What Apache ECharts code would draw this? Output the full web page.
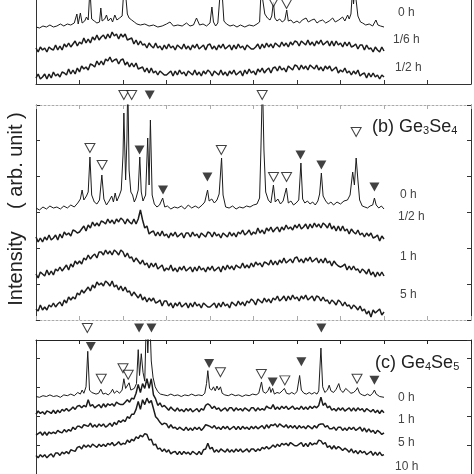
<!DOCTYPE html>
<html>
<head>
<meta charset="utf-8">
<script src="https://cdn.jsdelivr.net/npm/echarts@6/dist/echarts.min.js"></script>
<style>
  html, body { margin: 0; padding: 0; background: #fff; }
  #chart { width: 474px; height: 474px; }
</style>
</head>
<body>
<div id="chart"></div>
<script>
// 2theta sampling of the scanned (noisy) patterns, 10..50 deg every 0.25 deg
const twoTheta = [];
for (let i = 0; i <= 160; i++) twoTheta.push(10 + i * 0.25);

// ---- (a) ----
const a0h = [[10.0,57],[10.4,56],[10.8,58],[11.2,57],[11.6,59],[12.0,57],[12.4,58],[12.8,60],[13.2,58],[13.6,60],[14.0,59],[14.4,61],[14.7,70],[14.85,60],[15.1,71],[15.3,61],[15.6,63],[15.8,67],[16.0,64],[16.2,95],[16.4,65],[16.7,63],[17.0,61],[17.3,62],[17.45,76],[17.6,63],[17.9,65],[18.1,69],[18.3,63],[18.6,66],[18.8,62],[19.06,69],[19.3,64],[19.6,66],[19.9,68],[20.1,95],[20.3,90],[20.5,70],[20.7,66],[21.0,64],[21.3,62],[21.6,60],[22.0,59],[22.5,60],[23.0,58],[23.5,59],[24.0,57],[24.5,58],[25.0,60],[25.4,62],[25.8,58],[26.3,59],[26.8,58],[27.3,61],[27.7,58],[28.1,59],[28.45,66],[28.8,59],[29.2,60],[29.6,58],[30.0,61],[30.22,77],[30.4,62],[30.65,58],[30.9,61],[31.2,95],[31.4,90],[31.6,63],[31.9,60],[32.3,58],[32.7,59],[33.1,57],[33.5,59],[34.0,57],[34.5,59],[35.0,58],[35.4,60],[35.7,62],[35.88,95],[36.07,95],[36.3,70],[36.6,66],[36.9,64],[37.1,68],[37.29,82],[37.45,66],[37.7,63],[38.0,65],[38.3,62],[38.6,64],[38.82,74],[39.0,63],[39.3,64],[39.6,61],[40.0,63],[40.3,61],[40.6,64],[41.04,66],[41.3,62],[41.7,64],[41.99,65],[42.3,61],[42.6,63],[42.95,64],[43.3,61],[43.7,63],[44.1,66],[44.4,62],[44.8,64],[45.24,67],[45.5,63],[45.82,69],[46.0,65],[46.2,70],[46.39,95],[46.5,80],[46.62,95],[46.78,85],[47.0,68],[47.3,62],[47.54,61],[47.9,59],[48.3,60],[48.7,58],[49.07,64],[49.3,59],[49.6,58],[50.0,57]];
const a16h = [
  36,32,37,34,36,32,37,35,34,39,34,38,34,40,37,41,37,40,43,38,
  42,40,46,41,45,41,47,44,49,44,47,49,45,50,46,52,48,50,45,50,
  47,50,44,45,46,40,44,39,43,39,40,36,41,38,36,41,36,38,34,39,
  35,40,36,38,34,39,37,35,40,35,38,34,39,36,40,35,37,39,34,39,
  40,35,38,34,39,36,40,35,37,39,34,39,35,40,36,38,34,39,37,35,
  35,37,40,35,40,36,41,37,40,36,41,39,37,42,38,41,37,42,39,43,
  42,38,43,41,39,44,39,42,38,43,40,44,39,41,43,38,43,38,43,39,
  41,37,42,38,42,37,38,40,35,39,39,34,39,35,36,32,37,34,32,37,
  33];
const a12h = [
  6,10,5,7,10,5,10,6,12,8,10,7,12,11,9,15,10,14,10,16,
  12,18,15,17,14,20,19,17,23,19,23,19,25,23,27,22,24,25,20,24,
  25,19,22,17,21,17,21,15,16,17,12,16,11,16,11,13,9,13,11,9,
  9,11,13,8,13,9,14,10,12,8,13,11,9,14,9,12,8,13,10,14,
  12,8,13,11,9,14,9,12,8,13,10,14,9,11,13,8,14,10,15,11,
  13,9,15,12,16,11,14,16,11,16,17,13,18,14,16,12,18,16,14,19,
  18,14,19,15,18,14,19,17,15,19,14,17,13,18,15,18,13,15,17,11,
  14,12,16,11,13,9,13,10,14,8,10,11,6,11,7,11,7,9,5,9,
  7];
const aOpen = [[37.3,82],[38.8,80]];

// ---- (b) Ge3Se4 ----
const b0h = [[10.0,112],[10.4,110],[10.8,113],[11.2,111],[11.6,114],[12.0,112],[12.4,113],[12.8,111],[13.2,114],[13.6,112],[14.0,115],[14.4,113],[14.8,117],[15.1,121],[15.3,130],[15.5,120],[15.8,124],[16.0,128],[16.2,163],[16.4,125],[16.7,118],[17.0,116],[17.3,120],[17.57,145],[17.8,121],[18.1,115],[18.4,119],[18.7,124],[18.9,118],[19.1,127],[19.3,119],[19.6,125],[19.8,130],[20.0,165],[20.1,207],[20.3,140],[20.45,180],[20.55,240],[20.7,150],[20.9,128],[21.1,125],[21.3,118],[21.5,122],[21.75,130],[21.93,163],[22.1,128],[22.3,119],[22.6,125],[22.84,182],[23.0,135],[23.15,200],[23.35,125],[23.6,116],[23.9,113],[24.2,115],[24.56,122],[24.8,113],[25.1,114],[25.5,111],[25.9,113],[26.3,112],[26.7,114],[27.1,111],[27.5,115],[27.9,112],[28.3,114],[28.7,112],[29.1,115],[29.4,118],[29.72,130],[29.9,119],[30.2,121],[30.5,117],[30.8,120],[31.05,126],[31.33,162],[31.5,125],[31.8,113],[32.2,112],[32.6,114],[33.0,111],[33.4,113],[33.8,112],[34.2,114],[34.6,113],[35.0,115],[35.4,116],[35.7,122],[35.85,170],[36.03,240],[36.2,170],[36.4,128],[36.7,120],[37.0,117],[37.29,135],[37.5,118],[37.8,121],[38.1,116],[38.4,119],[38.78,132],[39.0,117],[39.3,119],[39.6,115],[39.9,117],[40.2,120],[40.45,157],[40.65,121],[40.9,117],[41.2,119],[41.5,116],[41.8,118],[42.1,115],[42.4,119],[42.6,126],[42.8,147],[43.0,124],[43.3,119],[43.6,116],[43.9,118],[44.2,115],[44.6,118],[45.0,116],[45.4,119],[45.8,120],[46.1,125],[46.4,148],[46.6,135],[46.8,162],[47.0,140],[47.2,120],[47.5,114],[47.8,113],[48.1,112],[48.4,114],[48.7,115],[48.9,122],[49.1,115],[49.4,112],[49.7,114],[50.0,111]];
const b12h = [
  83,78,82,78,83,80,85,80,82,85,80,86,82,88,85,87,84,90,89,87,
  88,91,94,89,95,92,98,94,97,94,99,98,96,101,97,100,96,101,98,102,
  100,96,101,98,96,101,96,101,110,100,92,94,86,88,89,84,88,84,89,84,
  86,82,87,84,88,83,85,87,82,87,87,83,88,84,86,82,87,85,83,88,
  87,83,88,84,86,82,87,85,83,88,84,87,83,88,86,90,85,87,90,85,
  88,86,92,87,90,86,92,89,93,88,91,93,88,93,90,95,91,93,90,95,
  92,96,91,93,96,91,96,92,97,93,96,92,97,95,92,97,91,94,89,94,
  89,94,89,91,86,91,88,86,90,85,87,83,87,84,87,82,83,85,79,84,
  81];
const b1h = [
  46,42,48,46,44,50,45,49,45,51,49,53,49,52,55,50,56,53,59,56,
  59,56,62,60,65,61,64,66,62,68,68,65,70,66,69,65,70,68,65,70,
  68,63,67,62,63,58,62,59,56,60,55,57,52,57,53,57,51,53,55,49,
  52,50,55,49,52,48,53,50,54,49,51,53,48,53,49,54,50,52,48,53,
  50,54,49,51,53,48,54,50,55,51,54,50,55,53,52,57,52,55,52,57,
  53,58,55,57,53,58,57,55,60,55,59,55,60,57,62,57,59,61,57,62,
  63,58,61,57,62,59,63,58,60,62,57,61,57,62,57,59,54,59,56,54,
  53,54,56,50,54,50,54,50,51,47,51,49,46,51,45,48,43,48,44,48,
  44];
const b5h = [
  11,9,15,10,13,10,15,13,17,13,16,18,14,20,17,23,20,23,21,27,
  25,30,27,30,33,29,35,32,38,35,37,34,39,37,34,39,33,35,30,34,
  29,33,28,29,24,28,25,22,26,20,23,18,22,19,22,17,18,20,14,19,
  19,14,17,12,17,14,18,13,15,17,12,17,13,18,14,16,12,17,15,13,
  13,15,17,12,17,13,18,14,16,12,18,16,14,19,15,18,14,19,17,21,
  19,15,21,19,17,22,18,21,17,22,20,24,19,21,24,19,24,20,25,21,
  23,19,24,21,25,20,22,24,19,24,23,19,23,19,20,16,20,18,15,20,
  18,14,18,14,15,11,15,13,10,14,9,11,6,9,3,10,7,9,11,5,
  8];
const bOpen = [[20.1,225],[21.0,225],[36.0,225],[16.2,172],[17.6,155],[31.3,170],[37.3,143],[38.8,143],[46.8,188],[15.9,-8]];
const bFilled = [[23.07,225],[21.9,170],[24.6,130],[29.7,143],[40.4,165],[42.8,155],[48.9,133],[21.85,-8],[23.27,-8],[42.8,-8]];

// ---- (c) Ge4Se5 ----
const c0h = [[10.0,96],[10.4,95],[10.8,97],[11.2,96],[11.6,98],[12.0,96],[12.4,97],[12.8,95],[13.2,98],[13.6,97],[14.0,99],[14.4,97],[14.8,101],[15.1,99],[15.3,104],[15.5,100],[15.75,108],[15.95,152],[16.15,104],[16.4,101],[16.6,103],[16.9,99],[17.2,100],[17.45,105],[17.7,99],[18.0,100],[18.3,98],[18.6,101],[18.8,105],[19.0,100],[19.3,103],[19.6,100],[19.9,104],[20.1,118],[20.3,106],[20.5,108],[20.7,113],[20.9,104],[21.1,102],[21.3,106],[21.55,112],[21.75,154],[21.9,122],[22.1,149],[22.3,126],[22.5,115],[22.7,200],[22.85,150],[23.05,200],[23.25,140],[23.45,120],[23.7,108],[24.0,102],[24.3,99],[24.7,98],[25.1,97],[25.5,99],[25.9,97],[26.3,98],[26.7,96],[27.1,98],[27.5,97],[27.9,99],[28.3,97],[28.7,98],[29.1,97],[29.4,100],[29.6,112],[29.75,128],[29.95,106],[30.2,104],[30.4,108],[30.6,103],[30.8,109],[31.0,104],[31.2,108],[31.4,100],[31.7,98],[32.1,97],[32.5,99],[32.9,97],[33.3,98],[33.7,96],[34.1,98],[34.5,97],[34.9,99],[35.3,98],[35.6,100],[35.92,114],[36.1,102],[36.4,100],[36.65,103],[36.85,108],[37.0,101],[37.2,106],[37.4,99],[37.7,101],[38.0,100],[38.3,103],[38.55,106],[38.8,100],[39.1,99],[39.4,101],[39.7,99],[40.0,102],[40.3,122],[40.5,104],[40.8,100],[41.1,99],[41.4,101],[41.7,99],[42.0,101],[42.3,99],[42.5,103],[42.75,156],[42.95,108],[43.2,101],[43.5,104],[43.7,110],[43.9,103],[44.2,101],[44.5,105],[44.8,112],[45.0,104],[45.3,101],[45.6,106],[45.9,103],[46.2,100],[46.5,101],[46.8,104],[46.95,107],[47.2,100],[47.5,98],[47.8,97],[48.1,99],[48.4,97],[48.7,100],[48.9,104],[49.1,99],[49.5,96],[50.0,95]];
const c1h = [
  74,78,75,77,74,78,77,75,79,75,79,76,80,78,81,78,80,83,80,84,
  85,82,85,83,92,84,86,82,84,86,82,87,83,87,85,87,84,89,87,86,
  86,89,92,89,94,93,100,111,101,112,106,118,106,118,98,93,85,88,83,85,
  82,79,83,80,78,82,78,80,77,81,78,81,77,79,81,77,81,79,85,87,
  85,81,84,80,82,78,80,82,78,82,82,78,82,79,81,78,82,80,78,82,
  82,78,82,79,81,79,84,82,81,86,80,83,80,84,81,84,80,82,84,80,
  82,80,84,80,83,80,84,81,84,82,85,95,85,88,82,84,79,81,78,82,
  79,82,78,80,82,78,82,78,82,79,81,77,81,79,77,80,76,79,75,79,
  76];
const c5h = [
  48,50,52,48,52,48,52,50,52,50,54,52,51,55,52,55,53,58,55,59,
  59,57,61,60,59,63,58,61,58,62,59,62,58,60,63,59,64,61,66,64,
  67,65,71,69,74,74,80,90,80,92,86,94,88,91,81,71,68,64,61,63,
  62,57,61,57,58,55,58,56,54,58,54,57,54,58,55,58,54,57,61,60,
  59,57,60,56,58,55,59,56,59,55,57,59,55,59,55,59,56,58,55,59,
  56,59,56,58,60,56,61,57,61,60,62,58,62,60,58,61,57,60,57,60,
  56,60,57,59,56,60,58,56,60,57,61,62,62,58,60,56,56,58,54,58,
  58,54,57,54,58,55,58,54,56,58,53,57,52,56,52,54,50,54,52,49,
  51];
const c10h = [
  23,20,24,21,24,20,23,25,21,26,26,23,27,25,28,25,30,29,28,33,
  34,31,36,33,36,33,37,35,33,37,34,37,34,38,36,39,35,37,40,36,
  38,37,42,39,43,41,46,44,48,46,50,49,42,43,36,37,31,32,28,31,
  27,30,25,27,28,24,28,24,28,25,27,24,28,26,24,28,24,30,31,38,
  31,33,27,30,27,31,29,27,31,27,30,27,31,28,31,27,29,31,27,31,
  31,28,31,29,33,31,34,31,33,36,33,37,34,38,36,38,35,39,37,35,
  35,37,39,34,38,34,39,36,38,37,42,41,37,39,33,35,31,35,31,34,
  32,29,32,30,27,31,26,29,25,29,26,28,24,26,28,23,27,23,27,23,
  24];
const cOpen = [[17.5,118],[20.0,131],[20.6,123],[31.2,126],[35.9,124],[38.6,116],[46.9,118]];
const cFilled = [[16.3,158],[29.9,137],[37.2,114],[40.5,139],[48.9,116]];

const traceLabels = [
  ['0 h', 398, 13], ['1/6 h', 393, 40], ['1/2 h', 395, 68],
  ['0 h', 400, 195], ['1/2 h', 398, 217], ['1 h', 400, 257], ['5 h', 400, 295],
  ['0 h', 398, 398], ['1 h', 398, 420], ['5 h', 398, 443], ['10 h', 395, 467]
];

const chart = echarts.init(document.getElementById('chart'), null, { renderer: 'canvas' });
const FONT = '"Liberation Sans", Arial, sans-serif';
const INK = '#1c1c1c';

function sampled(arr) { return arr.map((v, i) => [twoTheta[i], v]); }

function xAx(grid, pos, color, dashed) {
  return {
    type: 'value', gridIndex: grid, position: pos, min: 10, max: 60, interval: 5,
    axisLine: { show: true, onZero: false, lineStyle: { color: color, width: 1, type: dashed ? [2, 2] : 'solid' } },
    axisTick: { show: true, inside: true, length: 4, lineStyle: { color: color } },
    axisLabel: { show: false }, splitLine: { show: false }
  };
}
function yAx(grid, pos, max, ticks) {
  const ax = {
    type: 'value', gridIndex: grid, position: pos, min: 0, max: max,
    axisLine: { show: true, onZero: false, lineStyle: { color: '#333', width: 1 } },
    axisTick: { show: ticks, inside: true, length: 4, lineStyle: { color: '#333' } },
    axisLabel: { show: false }, splitLine: { show: false }
  };
  if (ticks) ax.interval = 36;
  return ax;
}
// sharp 0 h patterns: thin line; scanned amorphous patterns: a bit heavier
function trace(xi, yi, data, w) {
  return {
    type: 'line', xAxisIndex: xi, yAxisIndex: yi, data: data, showSymbol: false,
    lineStyle: { color: INK, width: w || 1 }, clip: true, animation: false, z: 2
  };
}
function marks(xi, yi, data, filled) {
  return {
    type: 'scatter', xAxisIndex: xi, yAxisIndex: yi, data: data, clip: false,
    symbol: 'triangle', symbolRotate: 180, symbolSize: [10, 9], animation: false, z: 5,
    itemStyle: filled ? { color: '#111' } : { color: '#fff', borderColor: '#111', borderWidth: 1 }
  };
}

const graphics = traceLabels.map(t => ({
  type: 'text', x: t[1], y: t[2],
  style: { text: t[0], font: '12px ' + FONT, fill: '#444', align: 'left', verticalAlign: 'middle',
           textAlign: 'left', textVerticalAlign: 'middle' }
}));
graphics.push({
  type: 'text', x: 16, y: 209, rotation: Math.PI / 2,
  style: { text: 'Intensity    ( arb. unit )', font: '20px ' + FONT, fill: '#222',
           align: 'center', verticalAlign: 'middle', textAlign: 'center', textVerticalAlign: 'middle' }
});
[['(b) Ge{s|3}Se{s|4}', 372, 127], ['(c) Ge{s|4}Se{s|5}', 375, 363]].forEach(t => {
  graphics.push({
    type: 'text', x: t[1], y: t[2],
    style: { text: t[0], font: '18px ' + FONT, fill: '#222', align: 'left', verticalAlign: 'middle',
             textAlign: 'left', textVerticalAlign: 'middle',
             rich: { s: { fontSize: 11, fontFamily: FONT, fill: '#222', verticalAlign: 'bottom' } } }
  });
});

const NW = 1.5;
chart.setOption({
  backgroundColor: '#fff',
  animation: false,
  grid: [
    { left: 36, right: 3, top: 0, height: 84 },
    { left: 36, right: 3, top: 105, height: 215 },
    { left: 36, right: 3, top: 340, height: 166 }
  ],
  xAxis: [
    xAx(0, 'bottom', '#333', false),
    xAx(1, 'top', '#aaa', true),
    xAx(1, 'bottom', '#aaa', true),
    xAx(2, 'top', '#222', false)
  ],
  yAxis: [
    yAx(0, 'left', 84, false), yAx(0, 'right', 84, false),
    yAx(1, 'left', 215, true), yAx(1, 'right', 215, true),
    yAx(2, 'left', 166, true), yAx(2, 'right', 166, true)
  ],
  series: [
    trace(0, 0, a0h), trace(0, 0, sampled(a16h), NW), trace(0, 0, sampled(a12h), NW),
    marks(0, 0, aOpen, false),
    trace(1, 2, b0h), trace(1, 2, sampled(b12h), NW), trace(1, 2, sampled(b1h), NW), trace(1, 2, sampled(b5h), NW),
    marks(1, 2, bOpen, false), marks(1, 2, bFilled, true),
    trace(3, 4, c0h), trace(3, 4, sampled(c1h), NW), trace(3, 4, sampled(c5h), NW), trace(3, 4, sampled(c10h), NW),
    marks(3, 4, cOpen, false), marks(3, 4, cFilled, true)
  ],
  graphic: graphics
});
</script>
</body>
</html>
